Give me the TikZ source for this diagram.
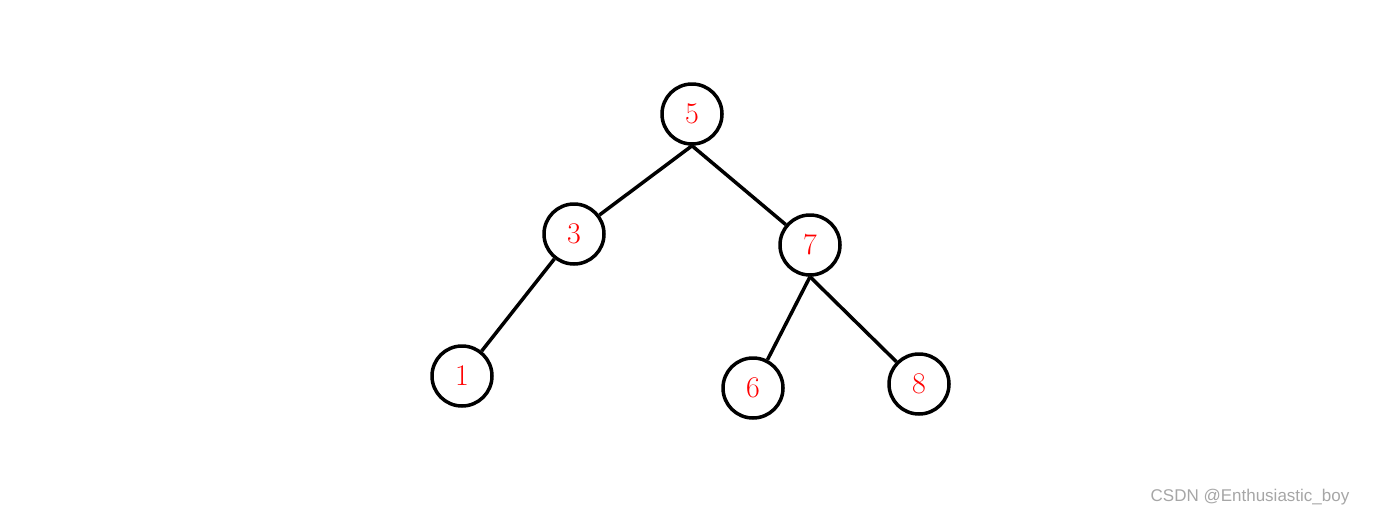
\documentclass[tikz,border=0pt]{standalone}
\usepackage{fontspec}
\newfontfamily\wm{Liberation Sans}
\begin{document}
\begin{tikzpicture}[x=1pt,y=-1pt,
  nd/.style={circle,draw=black,line width=3.5pt,minimum size=60pt,inner sep=0pt,text=red,font=\fontsize{30}{30}\selectfont},
  ed/.style={line width=3.5pt}]
\useasboundingbox (0,0) rectangle (1375,517);
\node[nd] (n5) at (692,114) {5};
\node[nd] (n3) at (574,234) {3};
\node[nd] (n7) at (810,245) {7};
\node[nd] (n1) at (462,376) {1};
\node[nd] (n6) at (753,388) {6};
\node[nd] (n8) at (919,384) {8};
\draw[ed] (n5.south) -- (n3);
\draw[ed] (n5.south) -- (n7);
\draw[ed] (n3) -- (n1);
\draw[ed] (n7.south) -- (n6);
\draw[ed] (n7.south) -- (n8);
\node[text=gray!70,font=\wm\fontsize{17}{17}\selectfont] (wm) at (1250,497) {CSDN @Enthusiastic\_boy};
\end{tikzpicture}
\end{document}
